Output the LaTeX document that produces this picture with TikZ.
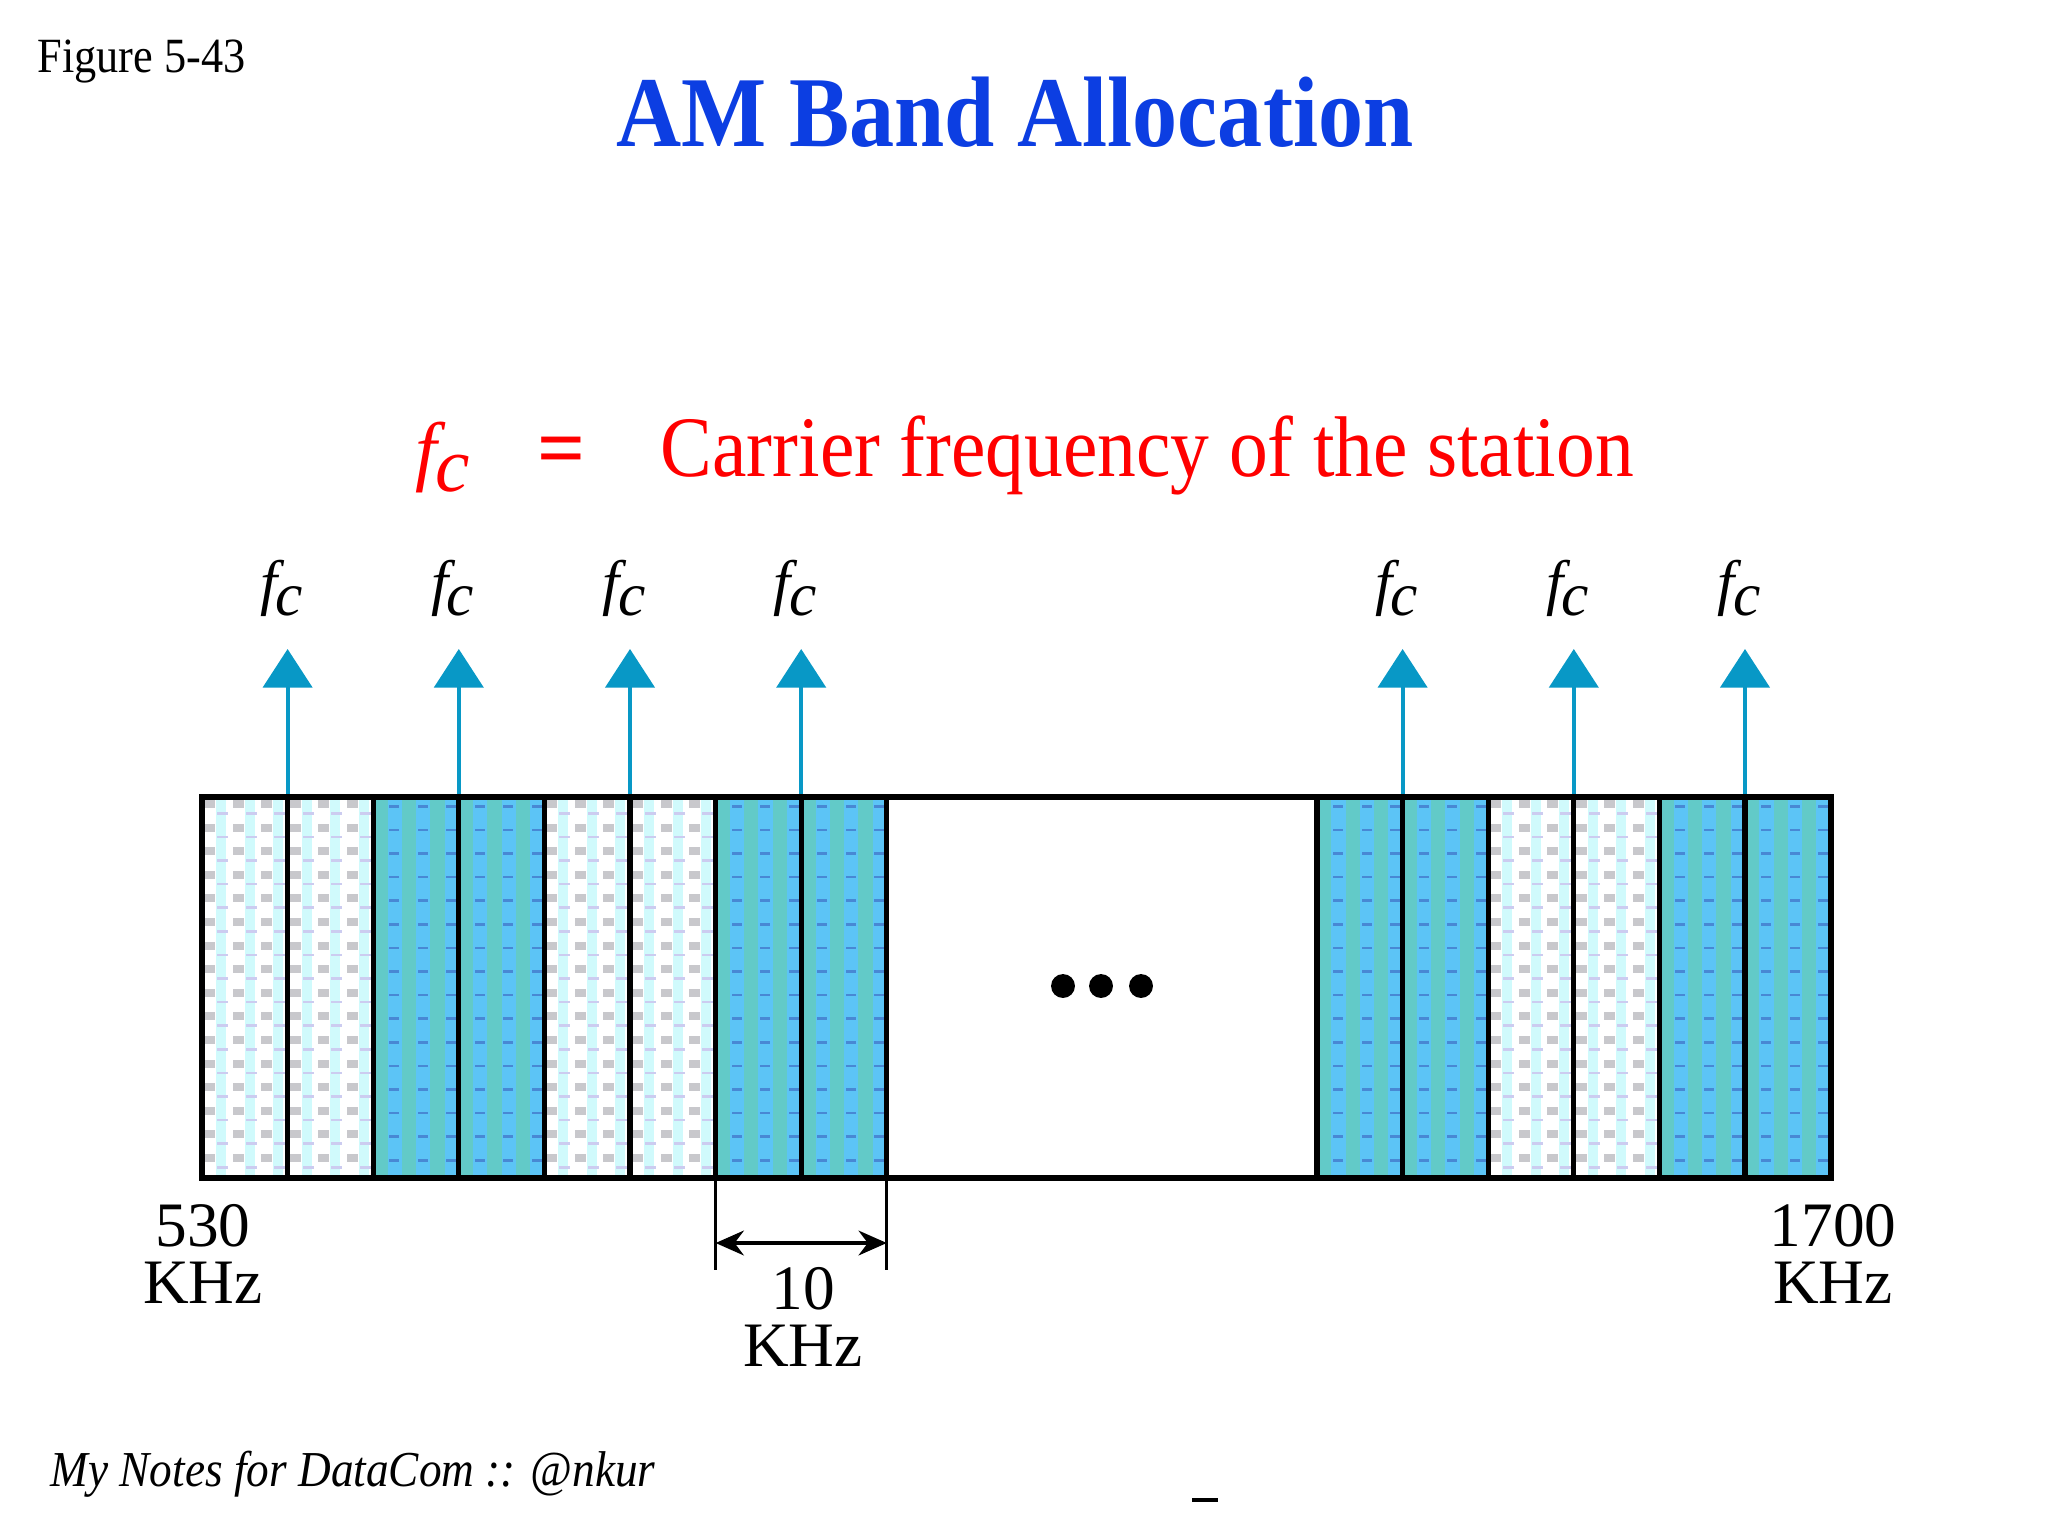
\documentclass[tikz,border=0pt]{standalone}
\usepackage{fontspec}
\setmainfont{Liberation Serif}
\newfontfamily\slidefont{Liberation Serif}[FakeStretch=0.9]
\usetikzlibrary{arrows.meta,positioning}

\definecolor{titleblue}{RGB}{12,62,226}
\definecolor{carrier}{RGB}{8,152,198}
\definecolor{tealband}{RGB}{98,202,200}
\definecolor{skyband}{RGB}{92,196,246}
\definecolor{dashblue}{RGB}{72,136,212}
\definecolor{paleband}{RGB}{208,250,252}
\definecolor{greysq}{RGB}{200,200,204}
\definecolor{lavsq}{RGB}{204,204,240}

\newcommand\fcsym{\textit{f\kern-0.5pt\raisebox{-0.2em}{c}}}

\tikzset{
  slidetext/.style={inner sep=0pt, anchor=base west, font=\slidefont\fontsize{14}{16}\selectfont},
  fclabel/.style={inner sep=0pt, anchor=base, font=\fontsize{17.5}{18}\selectfont},
  carrierarrow/.style={draw=carrier, line width=1.1pt, -{Triangle[length=11pt,width=14pt,fill=carrier]}},
  khz/.style={inner sep=0pt, anchor=north, align=center, font=\fontsize{18}{16}\selectfont},
  bandline/.style={line width=1.5pt},
  dot/.style={circle, fill=black, inner sep=0pt, minimum size=6.8pt}
}

\begin{document}
\begin{tikzpicture}[x=0.01cm,y=-0.01cm]
\fill[white] (0,0) rectangle (2048,1536);
\useasboundingbox (0,0) rectangle (2048,1536);

\node[slidetext] (fig) at (37,72) {Figure 5-43};
\node[inner sep=0pt, anchor=base, text=titleblue, font=\slidefont\bfseries\fontsize{28.5}{30}\selectfont] (title) at (1015,146) {AM Band Allocation};

\node[inner sep=0pt, anchor=base west, text=red, font=\fontsize{22}{24}\selectfont] (fcdef) at (415,476) {\fcsym};
\node[inner sep=0pt, anchor=base, text=red, font=\bfseries\fontsize{24}{26}\selectfont] (eq) at (562,476) {=};
\node[inner sep=0pt, anchor=base west, text=red, font=\slidefont\fontsize{24.5}{26}\selectfont] (meaning) at (660,476) {Carrier frequency of the station};

\foreach \sx/\dark in {202/0,287.6/0,373.2/1,458.8/1,544.4/0,630/0,715.6/1,801.2/1,1317/1,1402.6/1,1488.2/0,1573.8/0,1659.4/1,1745/1}{
  \ifnum\dark=1
    \fill[skyband] (\sx,797) rectangle ++(85.6,381);
    \foreach \k in {0,1,2} \fill[tealband] (\sx+\k*28.53,797) rectangle ++(14.3,381);
    \foreach \r in {0,...,15} \foreach \k in {0,1,2}
      \fill[dashblue] (\sx+\k*28.53+16,805+\r*23.6) rectangle ++(10,2.5);
  \else
    \fill[white] (\sx,797) rectangle ++(85.6,381);
    \foreach \k in {0,1,2} \fill[paleband] (\sx+\k*28.53+14,797) rectangle ++(10,381);
    \foreach \r in {0,...,15} \foreach \k in {0,1,2} {
      \fill[greysq] (\sx+\k*28.53+2,800+\r*23.6) rectangle ++(11,8);
      \fill[lavsq] (\sx+\k*28.53+15,812+\r*23.6) rectangle ++(11,2.5);
    }
  \fi
}

\foreach \ax [count=\i] in {287.6,458.8,630,801.2,1402.6,1573.8,1745} {
  \coordinate (b\i) at (\ax,797);
  \coordinate (t\i) at (\ax,649);
  \draw[carrierarrow] (b\i) -- (t\i);
  \node[fclabel] (fc\i) at (\ax-6,603) {\fcsym};
}

\foreach \lx in {287.6,373.2,458.8,544.4,630,715.6,801.2,886.8,1317,1402.6,1488.2,1573.8,1659.4,1745}
  \draw[bandline] (\lx,797) -- (\lx,1178);
\draw[bandline] (202,797) rectangle (1831,1178);

\foreach \dx [count=\j] in {1063,1101,1141} \node[dot] (dot\j) at (\dx,986) {};

\coordinate (w1) at (715.6,1178); \coordinate (w2) at (886.8,1178);
\coordinate (v1) at (715.6,1270); \coordinate (v2) at (886.8,1270);
\coordinate (h1) at (715.6,1243); \coordinate (h2) at (886.8,1243);
\draw[line width=0.9pt] (w1) -- (v1) (w2) -- (v2);
\draw[line width=1.3pt, {Stealth[length=8pt,width=7pt]}-{Stealth[length=8pt,width=7pt]}] (h1) -- (h2);

\node[khz] (width) at (803,1267) {10\\KHz};
\node[khz] (low) at (203,1204) {530\\KHz};
\node[khz] (high) at (1833,1204) {1700\\KHz};

\node[slidetext, font=\slidefont\itshape\fontsize{14.3}{16}\selectfont] (notes) at (50,1486) {My Notes for DataCom :: @nkur};
\draw[line width=1.2pt] (1192,1500) -- (1218,1500);
\end{tikzpicture}
\end{document}
